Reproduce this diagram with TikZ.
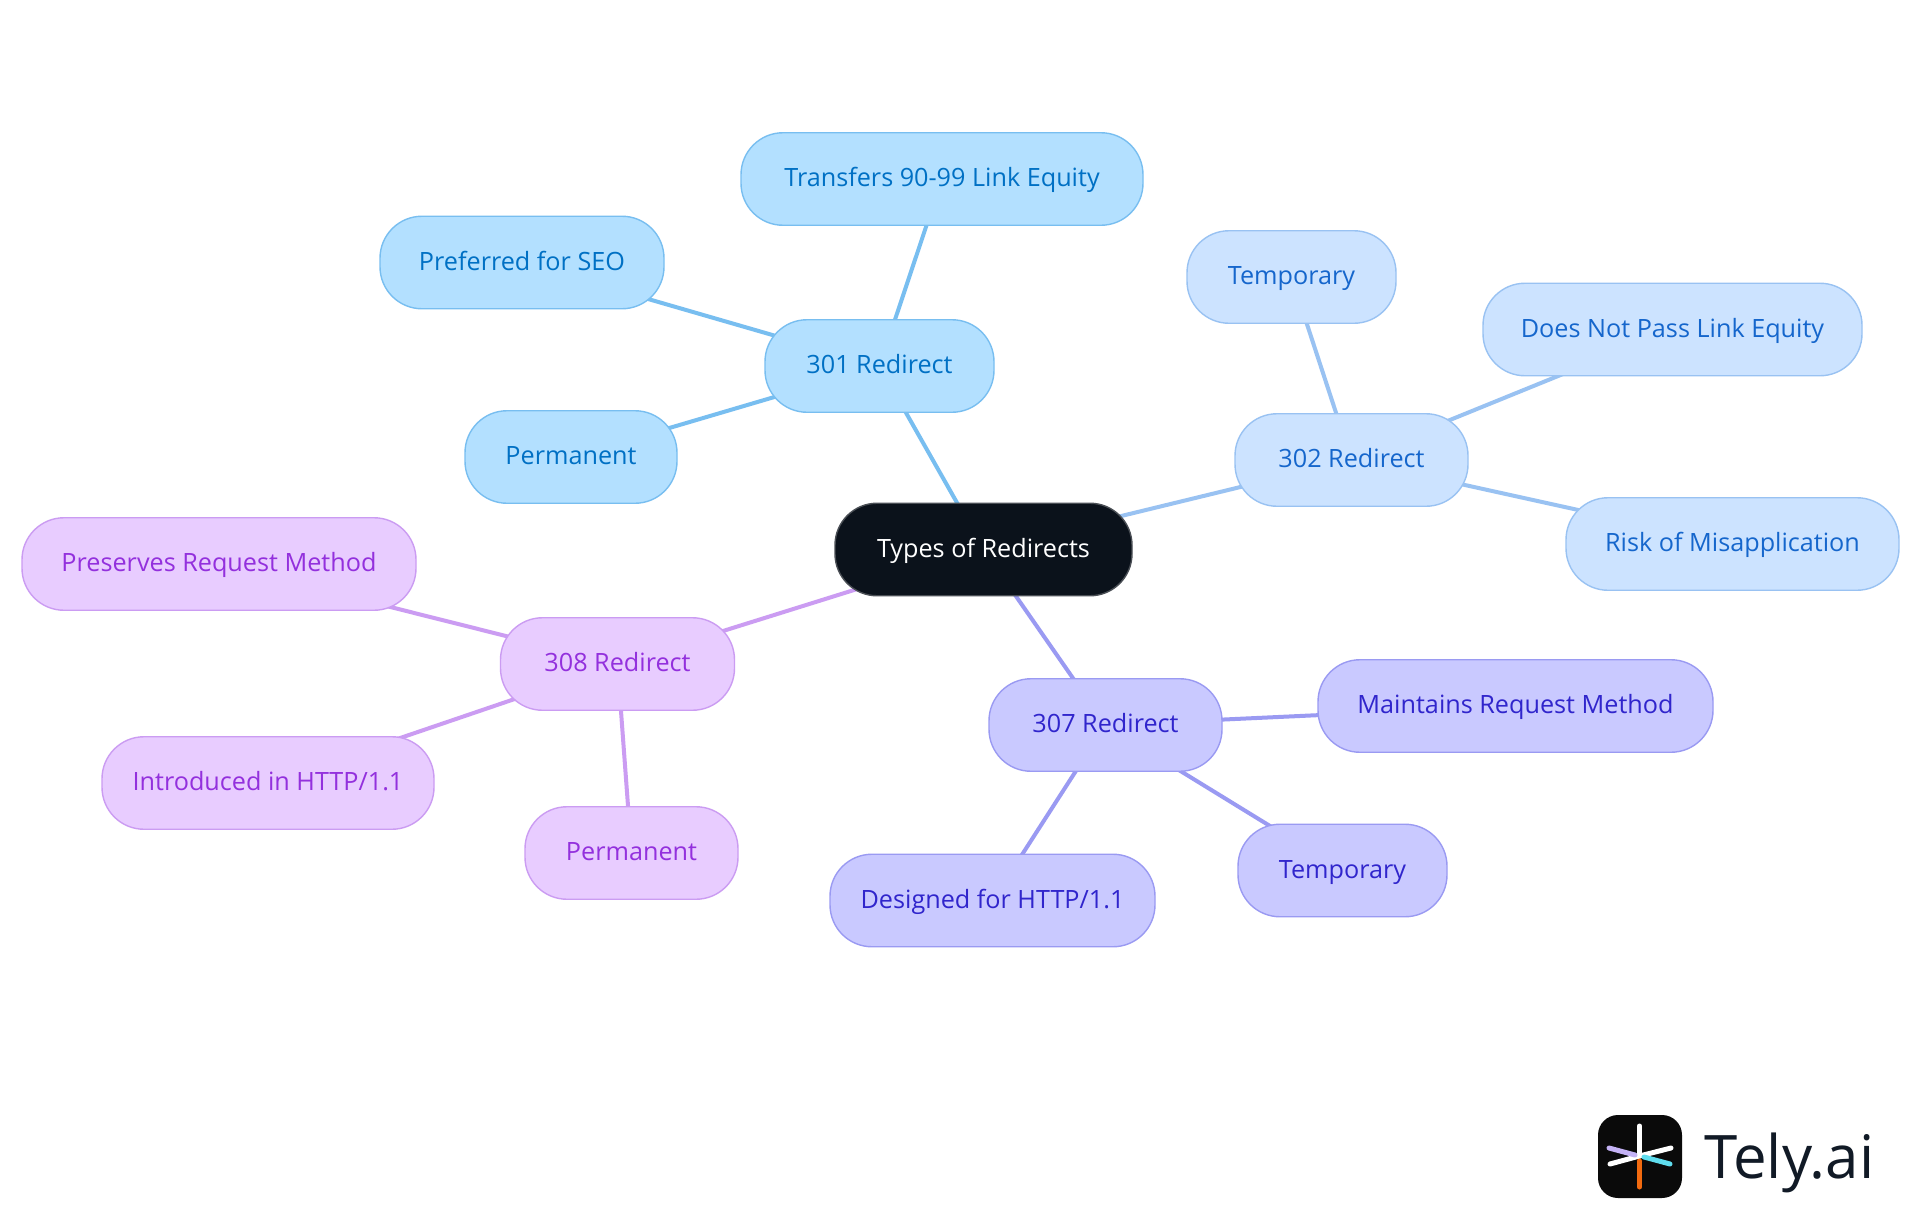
\documentclass[tikz,border=0pt]{standalone}
\usepackage{fontspec}
\setmainfont{Open Sans}
\usetikzlibrary{backgrounds}
\definecolor{rootfill}{HTML}{0B121B}
\definecolor{rootline}{HTML}{4A4F55}
\definecolor{afill}{HTML}{B3E0FF}\definecolor{aline}{HTML}{78BEF0}\definecolor{atext}{HTML}{0070C4}
\definecolor{bfill}{HTML}{CCE3FF}\definecolor{bline}{HTML}{99C2F2}\definecolor{btext}{HTML}{1566CC}
\definecolor{cfill}{HTML}{C9C9FF}\definecolor{cline}{HTML}{9A9AF2}\definecolor{ctext}{HTML}{3025CC}
\definecolor{dfill}{HTML}{E8CCFF}\definecolor{dline}{HTML}{CB9CF2}\definecolor{dtext}{HTML}{9330DD}
\definecolor{logoblack}{HTML}{0A0A0A}\definecolor{logotext}{HTML}{111A26}
\definecolor{logopurple}{HTML}{C4B2F5}\definecolor{logocyan}{HTML}{5FDDEE}\definecolor{logoorange}{HTML}{F26A0F}
\tikzset{
  pill/.style={rectangle,rounded corners=42pt,inner sep=0pt,line width=1.4pt,minimum height=92.5pt,text height=20pt,text depth=5pt,font=\fontsize{25.2}{28}\selectfont,yshift=-0.5pt},
  rootpill/.style={pill,fill=rootfill,draw=rootline,text=white},
  apill/.style={pill,fill=afill,draw=aline,text=atext},
  bpill/.style={pill,fill=bfill,draw=bline,text=btext},
  cpill/.style={pill,fill=cfill,draw=cline,text=ctext},
  dpill/.style={pill,fill=dfill,draw=dline,text=dtext},
  alink/.style={line width=4pt,draw=aline},
  blink/.style={line width=4pt,draw=bline},
  clink/.style={line width=4pt,draw=cline},
  dlink/.style={line width=4pt,draw=dline},
  spoke/.style={line width=5pt,line cap=round},
}
\begin{document}
\begin{tikzpicture}[x=1pt,y=-1pt]
\useasboundingbox (0,0) rectangle (1920,1215);
\node[rootpill,minimum width=297pt] (root) at (983.5,549) {Types of Redirects};
\node[apill,minimum width=229pt] (a) at (879.5,365.5) {301 Redirect};
\node[apill,minimum width=402pt] (a1) at (942,178.5) {Transfers 90-99 Link Equity};
\node[apill,minimum width=284pt] (a2) at (522,262) {Preferred for SEO};
\node[apill,minimum width=212pt] (a3) at (571,456.5) {Permanent};
\node[bpill,minimum width=233pt] (b) at (1351.5,459.5) {302 Redirect};
\node[bpill,minimum width=209pt] (b1) at (1291.5,276.5) {Temporary};
\node[bpill,minimum width=379pt] (b2) at (1672.5,329) {Does Not Pass Link Equity};
\node[bpill,minimum width=333pt] (b3) at (1732.5,543.5) {Risk of Misapplication};
\node[cpill,minimum width=233pt] (c) at (1105.5,724.5) {307 Redirect};
\node[cpill,minimum width=395pt] (c1) at (1515.5,705.5) {Maintains Request Method};
\node[cpill,minimum width=209pt] (c2) at (1342.5,870) {Temporary};
\node[cpill,minimum width=325pt] (c3) at (992.5,900) {Designed for HTTP/1.1};
\node[dpill,minimum width=234pt] (d) at (617.5,663.5) {308 Redirect};
\node[dpill,minimum width=394pt] (d1) at (219,563.5) {Preserves Request Method};
\node[dpill,minimum width=332pt] (d2) at (268,782.5) {Introduced in HTTP/1.1};
\node[dpill,minimum width=213pt] (d3) at (631.5,852.5) {Permanent};
\begin{scope}[on background layer]
\fill[white] (0,0) rectangle (1920,1215);
\draw[alink] (root.center) -- (a.center);
\draw[alink] (a.center) -- (a1.center);
\draw[alink] (a.center) -- (a2.center);
\draw[alink] (a.center) -- (a3.center);
\draw[blink] (root.center) -- (b.center);
\draw[blink] (b.center) -- (b1.center);
\draw[blink] (b.center) -- (b2.center);
\draw[blink] (b.center) -- (b3.center);
\draw[clink] (root.center) -- (c.center);
\draw[clink] (c.center) -- (c1.center);
\draw[clink] (c.center) -- (c2.center);
\draw[clink] (c.center) -- (c3.center);
\draw[dlink] (root.center) -- (d.center);
\draw[dlink] (d.center) -- (d1.center);
\draw[dlink] (d.center) -- (d2.center);
\draw[dlink] (d.center) -- (d3.center);
\end{scope}
% logo
\fill[logoblack,rounded corners=20pt] (1598,1115) rectangle (1682,1198);
\draw[spoke,white] (1639.5,1156) -- (1639.5,1126);
\draw[spoke,white] (1639.5,1156) -- (1671,1148);
\draw[spoke,white] (1639.5,1156) -- (1610,1164);
\draw[spoke,logopurple] (1635,1155) -- (1609,1148);
\draw[spoke,logocyan] (1644,1157) -- (1670,1164);
\draw[spoke,logoorange] (1639.5,1161) -- (1639.5,1187);
\node[anchor=base west,inner sep=0pt,text=logotext,font=\fontsize{60}{64}\selectfont] (brand) at (1704,1178) {Tely.ai};
\end{tikzpicture}
\end{document}
